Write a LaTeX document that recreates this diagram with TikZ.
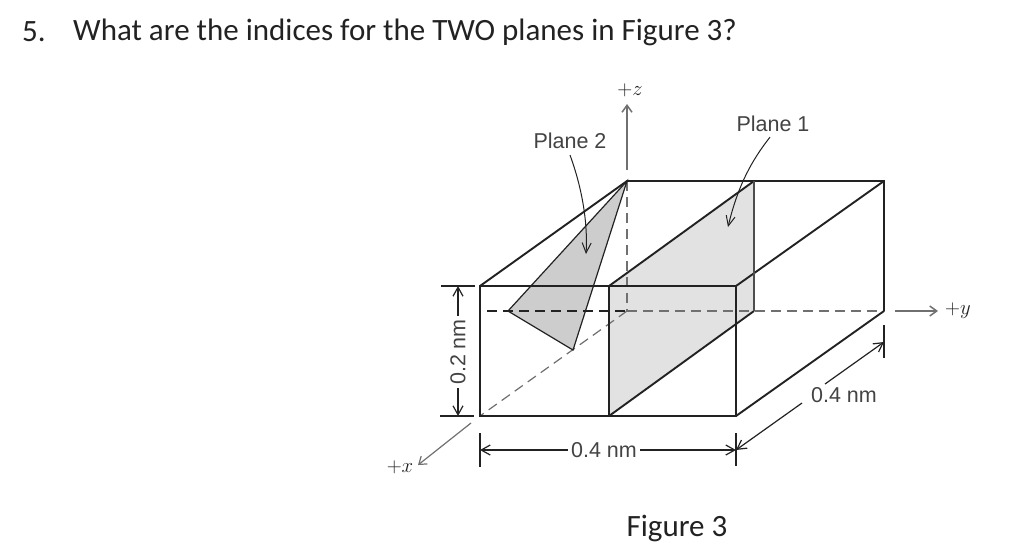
\documentclass[tikz,border=0pt]{standalone}
\usepackage{fontspec}
\setmainfont{Carlito}
\newfontfamily\labelfont{Liberation Sans}
\usepackage{amsmath}
\usetikzlibrary{arrows.meta,positioning}
\definecolor{boxline}{HTML}{222222}
\definecolor{axisgray}{HTML}{707070}
\definecolor{planeone}{HTML}{E2E2E2}
\definecolor{planetwo}{HTML}{CDCDCD}

\begin{document}
\begin{tikzpicture}[x=1pt, y=-1pt]
                \tikzstyle{edgeline} = [draw=boxline, line width=1.9pt];
                \tikzstyle{hidden} = [draw=axisgray, line width=1.5pt, dash pattern=on 10pt off 6pt];
                \tikzstyle{axis} = [draw=axisgray, line width=1.5pt, -{Straight Barb[length=7pt,width=10pt]}];
                \tikzstyle{dim} = [draw=boxline, line width=1.2pt, -{Straight Barb[length=9pt,width=10pt]}];
                \tikzstyle{pointer} = [draw=boxline, line width=1pt, -{Straight Barb[length=10pt,width=9pt]}];
                \tikzstyle{tick} = [draw=boxline, line width=1.5pt];
                \tikzstyle{caption} = [font=\fontsize{31}{34}\selectfont, text=boxline, inner sep=0pt];
                \tikzstyle{dimlabel} = [font=\labelfont\fontsize{21.5}{24}\selectfont, text=boxline!85, inner sep=3pt];
                \tikzstyle{axislabel} = [font=\fontsize{20}{22}\selectfont, text=boxline, inner sep=0pt];

                \useasboundingbox (0,0) rectangle (1024,550);

                \coordinate (FTL) at (480,286);
                \coordinate (FBL) at (480,416);
                \coordinate (FTR) at (736,286);
                \coordinate (FBR) at (736,416);
                \coordinate (BTL) at (627,181);
                \coordinate (BTR) at (884,181);
                \coordinate (BBL) at (627,311);
                \coordinate (BBR) at (884,311);
                \coordinate (MFT) at (609,286);
                \coordinate (MFB) at (609,416);
                \coordinate (MBT) at (754,181);
                \coordinate (MBB) at (754,311);
                \coordinate (PA) at (508,311);
                \coordinate (PB) at (573,350);

                \node[caption, anchor=west](Num) at (22,32) {5.};
                \node[caption, anchor=west](Question) at (73,32) {What are the indices for the TWO planes in Figure 3?};
                \node[caption](Fig) at (677,528) {Figure 3};

                \fill[planeone] (MFB) -- (MFT) -- (MBT) -- (MBB) -- cycle;
                \fill[planetwo] (BTL) -- (PA) -- (PB) -- cycle;

                \draw[hidden] (BBL) -- (BBR);
                \draw[hidden] (BTL) -- (BBL);
                \draw[hidden, line width=1.2pt] (BBL) -- (FBL);
                \coordinate (DashStart) at (487,311);
                \draw[draw=boxline, line width=2.4pt, dash pattern=on 10pt off 6pt] (DashStart) -- (BBL);
                \draw[draw=boxline, line width=1.2pt] (BTL) -- (PA) -- (PB) -- cycle;

                \draw[edgeline]
                    (FTL) rectangle (FBR)
                    (MFT) -- (MFB)
                    (FTL) -- (BTL) -- (BTR) -- (BBR)
                    (FTR) -- (BTR)
                    (FBR) -- (BBR)
                    (MFT) -- (MBT)
                    (MFB) -- (MBB)
                ;
                \draw[draw=boxline!80, line width=2.6pt] (MBT) -- (MBB);

                \node[axislabel](PlusZ) at (630,90) {$+z$};
                \node[axislabel](PlusY) at (958,311) {$+y$};
                \node[axislabel](PlusX) at (400,467) {$+x$};
                \coordinate (ZStart) at (627,170);
                \coordinate (ZEnd) at (627,104);
                \coordinate (YStart) at (895,311);
                \coordinate (YEnd) at (938,311);
                \coordinate (XStart) at (471,423);
                \coordinate (XEnd) at (418,465);
                \draw[axis] (ZStart) -- (ZEnd);
                \draw[axis] (YStart) -- (YEnd);
                \draw[axis, line width=1.2pt] (XStart) -- (XEnd);

                \node[dimlabel, rotate=90](DimZ) at (458,352) {0.2 nm};
                \node[dimlabel](DimY) at (604,450) {0.4 nm};
                \node[dimlabel](DimX) at (844,395) {0.4 nm};

                \coordinate (ZTickA) at (441,286);
                \coordinate (ZTickB) at (475,286);
                \coordinate (ZTickC) at (440,416);
                \coordinate (ZTickD) at (474,416);
                \coordinate (ZDimT) at (458,286);
                \coordinate (ZDimB) at (458,416);
                \draw[tick] (ZTickA) -- (ZTickB);
                \draw[tick] (ZTickC) -- (ZTickD);
                \draw[dim] (DimZ.east) -- (ZDimT);
                \draw[dim] (DimZ.west) -- (ZDimB);

                \coordinate (YTickA) at (480,433);
                \coordinate (YTickB) at (480,467);
                \coordinate (YTickC) at (736,433);
                \coordinate (YTickD) at (736,466);
                \coordinate (YDimL) at (480,450);
                \coordinate (YDimR) at (736,450);
                \draw[tick] (YTickA) -- (YTickB);
                \draw[tick] (YTickC) -- (YTickD);
                \draw[dim] (DimY.west) -- (YDimL);
                \draw[dim] (DimY.east) -- (YDimR);

                \coordinate (XTickA) at (884,325);
                \coordinate (XTickB) at (884,358);
                \coordinate (XDimN) at (825,384);
                \coordinate (XDimF) at (884,342);
                \coordinate (XDimS) at (802,403);
                \coordinate (XDimE) at (736,450);
                \draw[tick] (XTickA) -- (XTickB);
                \draw[dim] (XDimN) -- (XDimF);
                \draw[dim] (XDimS) -- (XDimE);

                \node[dimlabel](PlaneTwo) at (570,141) {Plane 2};
                \node[dimlabel](PlaneOne) at (773,124) {Plane 1};
                \coordinate (TwoEnd) at (586,254);
                \coordinate (OneEnd) at (728,227);
                \draw[pointer] (PlaneTwo.south) ++(0,3) .. controls (581,185) and (588,220) .. (TwoEnd);
                \draw[pointer] (PlaneOne.south) ++(-3,2) .. controls (752,160) and (738,185) .. (OneEnd);
            \end{tikzpicture}
\end{document}
